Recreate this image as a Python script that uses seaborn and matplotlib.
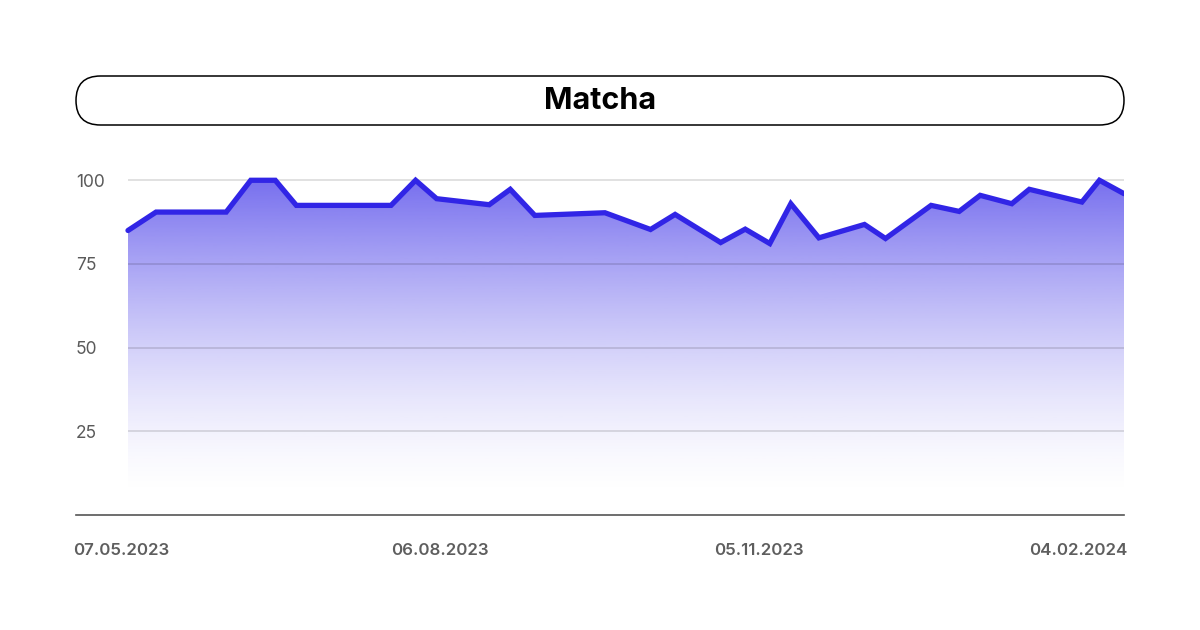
import numpy as np
import pandas as pd
import matplotlib
matplotlib.use('Agg')
import matplotlib.pyplot as plt
import matplotlib.dates as mdates
from matplotlib.patches import FancyBboxPatch
import seaborn as sns

# data
title = 'Matcha'
dates = ['2023-05-09', '2023-05-17', '2023-06-06', '2023-06-13', '2023-06-20',
         '2023-06-26', '2023-07-23', '2023-07-30', '2023-08-05', '2023-08-20',
         '2023-08-26', '2023-09-02', '2023-09-22', '2023-10-05', '2023-10-12',
         '2023-10-25', '2023-11-01', '2023-11-08', '2023-11-14', '2023-11-22',
         '2023-12-05', '2023-12-11', '2023-12-24', '2024-01-01', '2024-01-07',
         '2024-01-16', '2024-01-21', '2024-02-05', '2024-02-10', '2024-02-17']
values = [85, 90.5, 90.5, 100, 100, 92.5, 92.5, 100, 94.5, 92.7,
          97.3, 89.5, 90.3, 85.3, 89.8, 81.4, 85.4, 81.1, 93, 82.8,
          86.8, 82.6, 92.5, 90.7, 95.5, 93, 97.3, 93.5, 100, 96]
tick_dates = ['2023-05-07', '2023-08-06', '2023-11-05', '2024-02-04']
tick_labels = ['07.05.2023', '06.08.2023', '05.11.2023', '04.02.2024']
y_ticks = [25, 50, 75, 100]

df = pd.DataFrame({'date': pd.to_datetime(dates), 'value': values})

line_color = '#3125E6'
sns.set_style('white')
plt.rcParams['font.family'] = ['Inter', 'DejaVu Sans']

fig = plt.figure(figsize=(12, 6.3), dpi=100)
# axes spans the full axis line (76..1124 px); data starts at 128 px
ax = fig.add_axes([76 / 1200, 1 - 515 / 630, 1048 / 1200, (515 - 153.5) / 630])

xmin = mdates.date2num(df['date'].min())
xmax = mdates.date2num(df['date'].max())
days_per_px = (xmax - xmin) / 996
fill_base = 5

# gradient fill under the line
poly = ax.fill_between(df['date'], df['value'], fill_base, color='none', lw=0)
t = np.linspace(0, 1, 256)[:, None]
grad = np.zeros((256, 1, 4))
rgb = matplotlib.colors.to_rgb(line_color)
grad[..., 0], grad[..., 1], grad[..., 2] = rgb
grad[..., 3] = 0.66 * t ** 1.5
img = ax.imshow(grad, aspect='auto', origin='lower',
                extent=[xmin, xmax, fill_base, 100], zorder=1)
img.set_clip_path(poly.get_paths()[0], transform=ax.transData)

# gridlines only across the data span
ax.hlines(y_ticks, xmin, xmax, color='black', alpha=0.13, lw=1.3, zorder=2)

sns.lineplot(data=df, x='date', y='value', ax=ax, color=line_color,
             lw=3.8, zorder=3, solid_joinstyle='miter', solid_capstyle='round')

ax.set_yticks(y_ticks)
ax.set_yticklabels([str(v) for v in y_ticks], ha='left')
ax.set_xticks(mdates.date2num(pd.to_datetime(tick_dates)))
ax.set_xticklabels(tick_labels, fontweight='semibold')
ax.set_xlim(xmin - 52 * days_per_px, xmax)
ax.set_ylim(0, 108)
ax.tick_params(axis='y', length=0, pad=0, labelsize=12.5, labelcolor='#5a5a5a')
ax.tick_params(axis='x', length=0, pad=20, labelsize=12.2, labelcolor='#5e5e5e')
ax.grid(False)
ax.set_xlabel('')
ax.set_ylabel('')
for name, s in ax.spines.items():
    s.set_visible(name == 'bottom')
ax.spines['bottom'].set_color('#555555')
ax.spines['bottom'].set_linewidth(1.2)

# rounded title box
bg = fig.add_axes([0, 0, 1, 1], zorder=-1)
bg.set_xlim(0, 1200)
bg.set_ylim(630, 0)
bg.axis('off')
box = FancyBboxPatch((76, 76), 1048, 49, boxstyle='round,pad=0,rounding_size=24.5',
                     fc='white', ec='black', lw=1.1)
bg.add_patch(box)
fig.text(0.5, 1 - 101 / 630, title, ha='center', va='center',
         fontsize=22, fontweight='bold', color='black')

fig.savefig('out.png', dpi=100)
